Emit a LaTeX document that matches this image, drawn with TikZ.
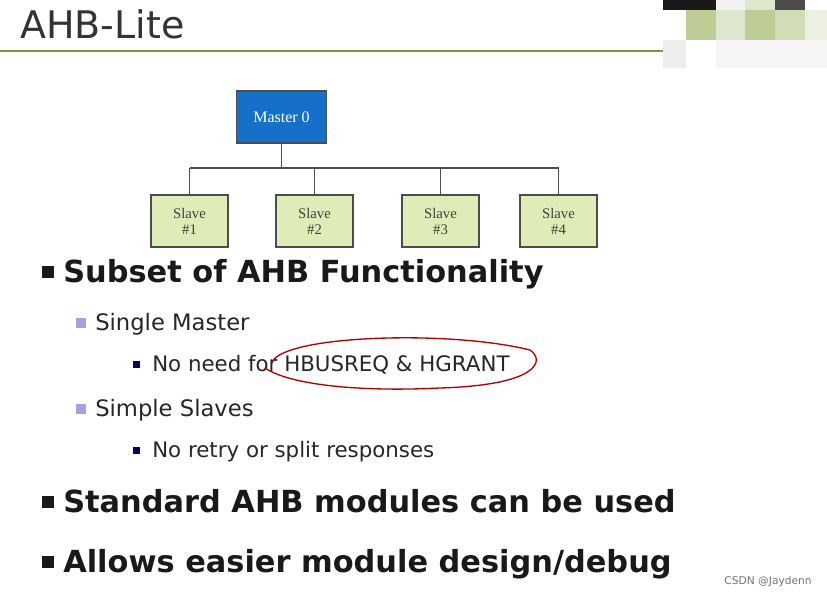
\documentclass[tikz,border=0pt]{standalone}
\usepackage{fontspec}
\setmainfont{DejaVu Sans}
\newfontfamily\tnr{Liberation Serif}
\definecolor{mblue}{RGB}{20,112,200}
\definecolor{sgreen}{RGB}{222,236,184}
\definecolor{mos1}{RGB}{190,205,150}
\definecolor{mos2}{RGB}{222,230,205}
\definecolor{lav}{RGB}{170,160,225}
\begin{document}
\begin{tikzpicture}[x=0.75pt,y=-0.75pt,
  master/.style={draw=black!70,fill=mblue,text=white,minimum width=67.5pt,minimum height=39pt,font=\tnr\fontsize{12}{13}\selectfont,line width=1pt},
  slave/.style={draw=black!70,fill=sgreen,text=black!75,minimum width=57.75pt,minimum height=39pt,align=center,font=\tnr\fontsize{11}{12}\selectfont,line width=1pt},
  bus/.style={draw=black!70,line width=1pt},
  l1/.style={anchor=base west,font=\bfseries\fontsize{22.8}{24}\selectfont,text=black!90},
  l2/.style={anchor=base west,font=\fontsize{17}{18}\selectfont,text=black!85},
  l3/.style={anchor=base west,font=\fontsize{16}{18}\selectfont,text=black!85}]
\useasboundingbox (0,0) rectangle (827,596);
% mosaic
\fill[black!90] (663,0) rectangle (716,10);
\fill[black!5] (716,0) rectangle (745,10);
\fill[mos2] (745,0) rectangle (775,10);
\fill[black!70] (775,0) rectangle (805,10);
\fill[mos1] (686,10) rectangle (716,40);
\fill[mos2] (716,10) rectangle (745,40);
\fill[mos1] (745,10) rectangle (775,40);
\fill[mos1!70!white] (775,10) rectangle (805,40);
\fill[mos2!60!white] (805,10) rectangle (827,40);
\fill[black!7] (663,40) rectangle (686,68);
\fill[black!4] (716,40) rectangle (827,68);
% title
\node[anchor=base west,inner sep=0,font=\fontsize{28.5}{30}\selectfont,text=black!80] (title) at (20,38) {AHB-Lite};
\draw[olive!50!gray,line width=1.5pt] (0,51) -- (663,51);
% diagram
\node[master] (m) at (281.5,117) {Master 0};
\node[slave] (s1) at (189.5,221) {Slave\\\#1};
\node[slave] (s2) at (314.5,221) {Slave\\\#2};
\node[slave] (s3) at (440.5,221) {Slave\\\#3};
\node[slave] (s4) at (558.5,221) {Slave\\\#4};
\coordinate (bl) at (189.5,168);
\coordinate (br) at (558.5,168);
\draw[bus] (m.south) -- (m.south |- bl);
\draw[bus] (bl) -- (br);
\foreach \s in {s1,s2,s3,s4} \draw[bus] (\s.north |- bl) -- (\s.north);
% bullets
\fill[black!90] (42,266) rectangle (54,278);
\node[l1,inner sep=0] (t1) at (63,282) {Subset of AHB Functionality};
\fill[lav] (76,318) rectangle (86,328);
\node[l2,inner sep=0] (t2) at (95,330) {Single Master};
\fill[blue!40!black] (133,361) rectangle (140,368);
\node[l3,inner sep=0] (t3) at (152,371) {No need for HBUSREQ \& HGRANT};
\draw[red!70!black,line width=1pt] (272,362) .. controls (285,335) and (450,330) .. (530,350) .. controls (545,360) and (540,385) .. (440,388) .. controls (360,392) and (290,385) .. (265,368);
\fill[lav] (76,404) rectangle (86,414);
\node[l2,inner sep=0] (t4) at (95,416) {Simple Slaves};
\fill[blue!40!black] (133,447) rectangle (140,454);
\node[l3,inner sep=0] (t5) at (152,457) {No retry or split responses};
\fill[black!90] (42,496) rectangle (54,508);
\node[l1,inner sep=0] (t6) at (63,512) {Standard AHB modules can be used};
\fill[black!90] (42,556) rectangle (54,568);
\node[l1,inner sep=0] (t7) at (63,572) {Allows easier module design/debug};
\node[anchor=base east,inner sep=0,font=\fontsize{8}{9}\selectfont,text=black!55] (wm) at (812,584) {CSDN @Jaydenn};
\end{tikzpicture}
\end{document}
